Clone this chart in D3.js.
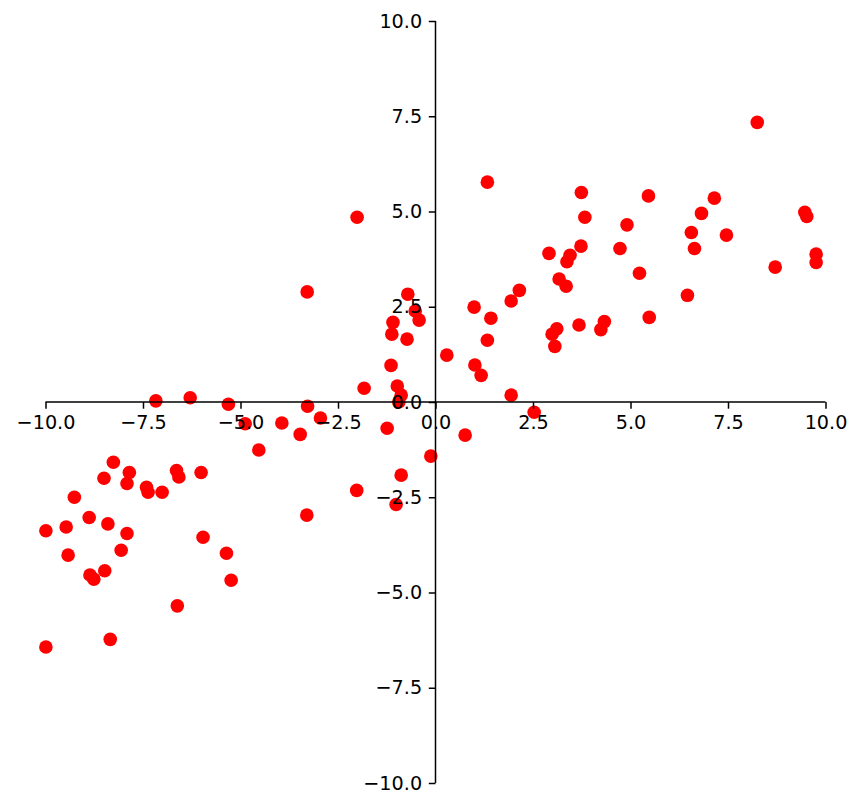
<!DOCTYPE html>
<html>
<head>
<meta charset="utf-8">
<script src="https://cdn.jsdelivr.net/npm/d3@7"></script>
<style>
  html, body { margin: 0; padding: 0; background: #fff; }
  svg { display: block; }
</style>
</head>
<body>
<script>
// Data
const xValues = [
  8.25, 1.33, -2.01, 3.74, 5.46, 3.83, 4.91, 7.15, 6.82, 9.47,
  9.52, 6.56, 7.46, 2.91, 3.73, 4.73, 6.64, 3.45, 3.37, 9.76,
  9.76, 5.23, 3.17, 3.35, 8.71, -3.29, 2.15, -0.71, 1.94, 6.46,
  0.99, -0.52, -1.09, -0.42, 1.42, 5.48, 4.33, 4.24, 3.68, 3.11,
  2.99, -1.12, -0.73, 1.33, 3.06, 0.29, -1.14, 1.01, 1.17, -1.83,
  -0.98, -0.88, -0.94, 1.94, 2.53, 0.76, -0.12, -1.24, -0.88, -1.01,
  -2.02, -3.30, -3.47, -3.94, -3.28, -2.95, -4.53, -4.88, -5.31, -6.29,
  -7.17, -6.01, -6.64, -6.58, -7.85, -7.91, -7.41, -7.37, -7.01, -8.26,
  -8.50, -9.26, -8.88, -8.40, -7.91, -8.06, -9.99, -9.47, -9.42, -8.86,
  -8.76, -8.48, -5.96, -5.36, -5.24, -6.62, -8.34, -9.99
];
const yValues = [
  7.34, 5.77, 4.85, 5.50, 5.41, 4.85, 4.65, 5.35, 4.95, 4.98,
  4.87, 4.45, 4.38, 3.90, 4.09, 4.03, 4.03, 3.85, 3.68, 3.88,
  3.66, 3.38, 3.23, 3.04, 3.54, 2.89, 2.93, 2.83, 2.65, 2.80,
  2.49, 2.39, 2.09, 2.15, 2.20, 2.22, 2.11, 1.90, 2.02, 1.92,
  1.78, 1.78, 1.65, 1.62, 1.46, 1.23, 0.96, 0.97, 0.70, 0.36,
  0.42, 0.18, 0.00, 0.18, -0.27, -0.87, -1.42, -0.69, -1.92, -2.69,
  -2.32, -2.97, -0.85, -0.55, -0.11, -0.42, -1.26, -0.57, -0.06, 0.11,
  0.03, -1.85, -1.80, -1.97, -1.85, -2.14, -2.24, -2.37, -2.37, -1.58,
  -2.00, -2.50, -3.03, -3.20, -3.45, -3.89, -3.38, -3.28, -4.02, -4.54,
  -4.65, -4.43, -3.55, -3.97, -4.68, -5.35, -6.23, -6.43
];
const xTicks = [-10, -7.5, -5, -2.5, 0, 2.5, 5, 7.5, 10];
const yTicks = [-10, -7.5, -5, -2.5, 0, 2.5, 5, 7.5, 10];
const xDomain = [-10, 10];
const yDomain = [-10, 10];

(function () {
  const W = 862, H = 808;
  const pLeft = 45.5, pRight = 825.5, pTop = 21, pBottom = 783;

  const svg = d3.select("body").append("svg")
    .attr("width", W).attr("height", H);

  const x = d3.scaleLinear().domain(xDomain).range([pLeft, pRight]);
  const y = d3.scaleLinear().domain(yDomain).range([pBottom, pTop]);

  const points = xValues.map((v, i) => ({ x: v, y: yValues[i] }));

  svg.append("g").selectAll("circle")
    .data(points).enter().append("circle")
    .attr("cx", d => x(d.x))
    .attr("cy", d => y(d.y))
    .attr("r", 6.8)
    .attr("fill", "#ff0000");

  const fmt = d3.format(".1f");
  const tickLen = 6.7, tickPad = 6.7;

  const xAxis = d3.axisBottom(x).tickValues(xTicks).tickFormat(fmt)
    .tickSize(tickLen).tickPadding(tickPad);
  const yAxis = d3.axisLeft(y).tickValues(yTicks).tickFormat(fmt)
    .tickSize(tickLen).tickPadding(tickPad);

  const gx = svg.append("g").attr("transform", `translate(0,${y(0)})`).call(xAxis);
  const gy = svg.append("g").attr("transform", `translate(${x(0)},0)`).call(yAxis);

  [gx, gy].forEach(g => {
    g.select(".domain").attr("stroke", "#000").attr("stroke-width", 1.5);
    g.selectAll(".tick line").attr("stroke", "#000").attr("stroke-width", 1.5);
    g.selectAll(".tick text")
      .attr("fill", "#000")
      .style("font-family", "'DejaVu Sans', sans-serif")
      .style("font-size", "19.2px");
  });
  gx.select(".domain").attr("d", `M${pLeft},0H${pRight}`);
  gy.select(".domain").attr("d", `M0,${pTop}V${pBottom}`);
})();
</script>
</body>
</html>
